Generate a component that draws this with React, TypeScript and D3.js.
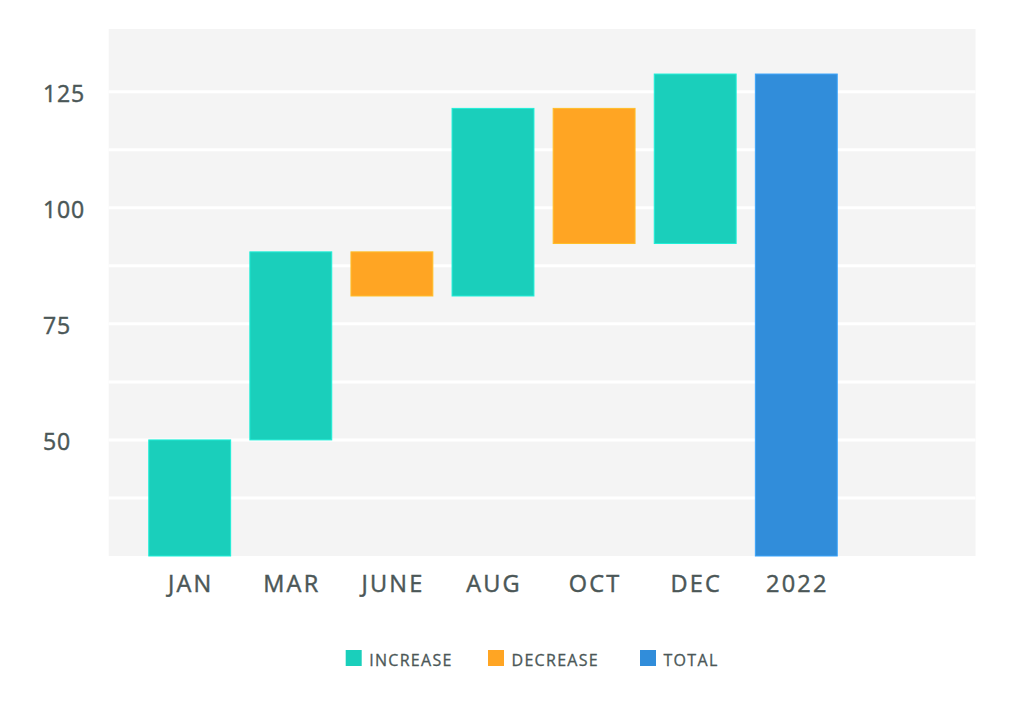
import React from "react";
import * as d3 from "d3";

const categories = ["JAN", "MAR", "JUNE", "AUG", "OCT", "DEC", "2022"];
const deltas = [50, 40.5, -9.5, 40.4, -29.1, 36.5];
const yTicks = [50, 75, 100, 125];
const gridValues = [37.5, 50, 62.5, 75, 87.5, 100, 112.5, 125];
const legendLabels = ["INCREASE", "DECREASE", "TOTAL"];
const legendColors = ["#1ACFBB", "#FFA523", "#318DDA"];

const W = 1030;
const H = 711;
const plot = { left: 108.7, right: 975.5, top: 29, bottom: 556 };
const textColor = "#4B5757";
const font = "'Open Sans', 'DejaVu Sans', sans-serif";

type Bar = { cat: string; start: number; end: number; kind: number };

function buildBars(): Bar[] {
  const bars: Bar[] = [];
  let acc = 0;
  deltas.forEach((d, i) => {
    const start = acc;
    acc += d;
    bars.push({ cat: categories[i], start, end: acc, kind: d >= 0 ? 0 : 1 });
  });
  bars.push({ cat: categories[categories.length - 1], start: 0, end: acc, kind: 2 });
  return bars;
}

export default function App() {
  const bars = buildBars();
  const y = d3.scaleLinear().domain([25, 138.5]).range([plot.bottom, plot.top]);
  const x = d3
    .scaleBand<string>()
    .domain(categories)
    .range([139.15, 846.85])
    .paddingInner(0.19)
    .paddingOuter(0.095);
  const yMin = y.domain()[0];

  const textProps = {
    fill: textColor,
    fontFamily: font,
    fontWeight: 400,
    stroke: textColor,
    strokeWidth: 0.45,
  };

  return (
    <svg
      width={W}
      height={H}
      style={{ position: "absolute", left: 0, top: 0, background: "#fff" }}
    >
      <rect
        x={plot.left}
        y={plot.top}
        width={plot.right - plot.left}
        height={plot.bottom - plot.top}
        fill="#F4F4F4"
      />
      {gridValues.map((v) => (
        <line
          key={v}
          x1={plot.left}
          x2={plot.right}
          y1={y(v)}
          y2={y(v)}
          stroke="#FFFFFF"
          strokeWidth={3}
        />
      ))}
      {yTicks.map((v) => (
        <text key={v} x={43} y={y(v) + 10.5} fontSize={23} letterSpacing={0.8} {...textProps}>
          {v}
        </text>
      ))}
      {bars.map((b, i) => {
        const lo = Math.max(Math.min(b.start, b.end), yMin);
        const hi = Math.max(b.start, b.end);
        const c = legendColors[b.kind];
        return (
          <rect
            key={i}
            x={x(b.cat)!}
            width={x.bandwidth()}
            y={y(hi)}
            height={y(lo) - y(hi)}
            fill={c}
            stroke={d3.color(c)!.brighter(0.4).formatHex()}
            strokeWidth={1}
          />
        );
      })}
      {categories.map((c) => (
        <text
          key={c}
          x={x(c)! + x.bandwidth() / 2 + 1}
          y={592}
          textAnchor="middle"
          fontSize={23.5}
          letterSpacing={2.2}
          {...textProps}
        >
          {c}
        </text>
      ))}
      {legendLabels.map((l, i) => {
        const xs = [345.7, 488, 640][i];
        return (
          <g key={l}>
            <rect x={xs} y={650} width={16} height={16} fill={legendColors[i]} />
            <text x={xs + 23.5} y={665.5} fontSize={16} letterSpacing={1.3} {...textProps} strokeWidth={0.3}>
              {l}
            </text>
          </g>
        );
      })}
    </svg>
  );
}
